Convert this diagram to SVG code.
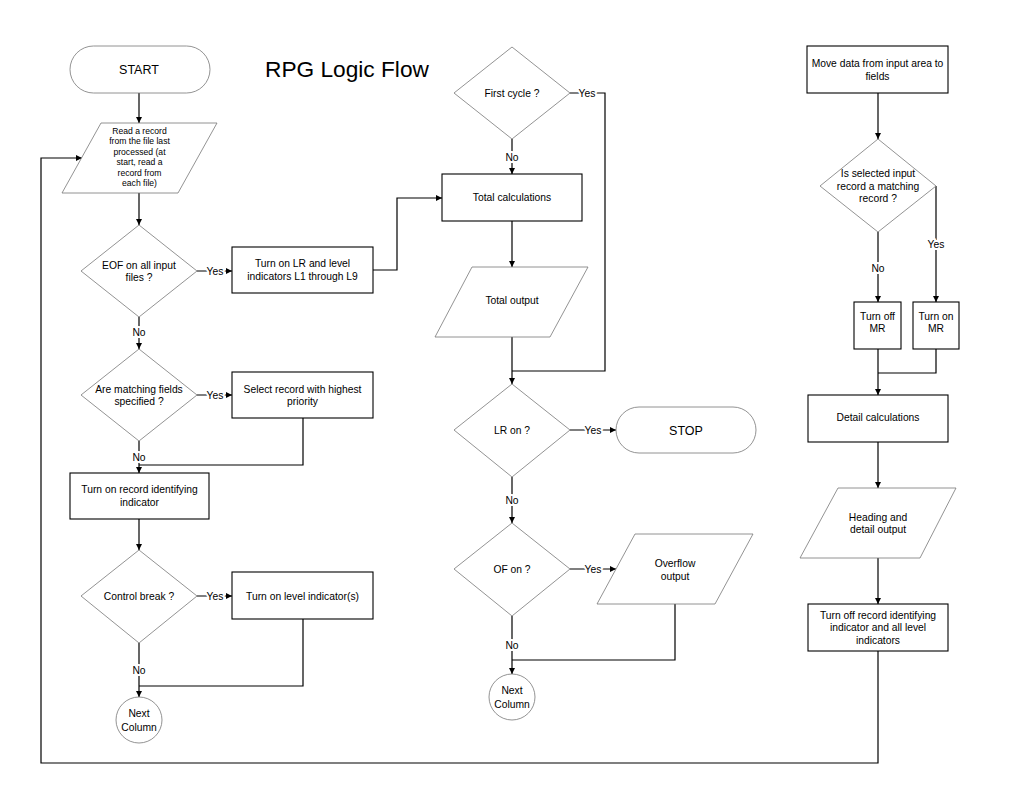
<svg xmlns="http://www.w3.org/2000/svg" width="1023" height="791" viewBox="0 0 1023 791">
<defs>
<marker id="arr" viewBox="0 0 8 8" refX="8" refY="4" markerWidth="6" markerHeight="6" markerUnits="userSpaceOnUse" orient="auto">
<path d="M0,0 L8,4 L0,8 z" fill="#000"/>
</marker>
<style>
text{font-family:"Liberation Sans",Arial,sans-serif;font-size:10.3px;fill:#000;text-anchor:middle}
.t{font-size:12.5px}
.title{font-size:22.7px;text-anchor:start}
.sm{font-size:8.6px}
.box{fill:#fff;stroke:#000;stroke-width:1.1}
.soft{fill:#fff;stroke:#777;stroke-width:0.8}
.c{fill:none;stroke:#000;stroke-width:1.2}
.a{marker-end:url(#arr)}
.lbl{stroke:#fff;stroke-width:4;paint-order:stroke;stroke-linejoin:round}
</style>
</defs>
<rect width="1023" height="791" fill="#fff"/>
<text class="title" x="265" y="77">RPG Logic Flow</text>

<g id="connectors">
<path class="c a" d="M139,93 V123"/>
<path class="c a" d="M139,193 V225"/>
<path class="c a" d="M197,271 H232"/>
<path class="c a" d="M139,317 V349"/>
<path class="c a" d="M373,270 H397 V198 H442"/>
<path class="c a" d="M197,395 H232"/>
<path class="c a" d="M139,441 V473"/>
<path class="c" d="M303,418 V465 H139"/>
<path class="c a" d="M139,519 V550"/>
<path class="c a" d="M197,596 H232"/>
<path class="c a" d="M139,643 V697"/>
<path class="c" d="M303,619 V686 H139"/>
<path class="c" d="M570,93 H605 V371 H512"/>
<path class="c a" d="M512,139 V174"/>
<path class="c a" d="M512,221 V267"/>
<path class="c a" d="M512,337 V384"/>
<path class="c a" d="M570,430 H616"/>
<path class="c a" d="M512,477 V523"/>
<path class="c a" d="M570,569 H616"/>
<path class="c a" d="M512,616 V674"/>
<path class="c" d="M675,604 V660 H512"/>
<path class="c a" d="M878,93 V139"/>
<path class="c a" d="M878,232 V302"/>
<path class="c a" d="M936,186 V302"/>
<path class="c" d="M878,349 V373"/>
<path class="c" d="M936,349 V373 H878"/>
<path class="c a" d="M878,373 V395"/>
<path class="c a" d="M878,442 V488"/>
<path class="c a" d="M878,558 V604"/>
<path class="c a" d="M878,651 V763 H41 V158 H82"/>
<text class="lbl" x="215" y="274.5">Yes</text>
<text class="lbl" x="139" y="336">No</text>
<text class="lbl" x="215" y="398.5">Yes</text>
<text class="lbl" x="139" y="460.5">No</text>
<text class="lbl" x="215" y="599.5">Yes</text>
<text class="lbl" x="139" y="673.5">No</text>
<text class="lbl" x="587" y="96.5">Yes</text>
<text class="lbl" x="512" y="160.5">No</text>
<text class="lbl" x="593" y="433.5">Yes</text>
<text class="lbl" x="512" y="503.5">No</text>
<text class="lbl" x="593" y="572.5">Yes</text>
<text class="lbl" x="512" y="648.5">No</text>
<text class="lbl" x="878" y="271.5">No</text>
<text class="lbl" x="936" y="247.5">Yes</text>
</g>

<g id="start">
<rect class="soft" x="70" y="46" width="140" height="47" rx="23.5"/>
<text class="t" x="139" y="74">START</text>
</g>
<g id="read">
<polygon class="soft" points="101,123 217,123 178,193 62,193"/>
<text class="sm" x="139.5" y="133.8">Read a record</text>
<text class="sm" x="139.5" y="144.2">from  the file last</text>
<text class="sm" x="139.5" y="154.6">processed (at</text>
<text class="sm" x="139.5" y="165">start, read a</text>
<text class="sm" x="139.5" y="175.6">record from</text>
<text class="sm" x="139.5" y="186">each file)</text>
</g>
<g id="eof">
<polygon class="soft" points="139,225 197,271 139,317 81,271"/>
<text x="139" y="268.5">EOF on all input</text>
<text x="139" y="281">files ?</text>
</g>
<g id="lr-ind">
<rect class="box" x="232" y="247" width="141" height="46"/>
<text x="302.5" y="266.5">Turn on LR and level</text>
<text x="302.5" y="279.5">indicators L1 through L9</text>
</g>
<g id="match">
<polygon class="soft" points="139,349 197,395 139,441 81,395"/>
<text x="139" y="392.5">Are matching fields</text>
<text x="139" y="405">specified ?</text>
</g>
<g id="select">
<rect class="box" x="232" y="372" width="141" height="46"/>
<text x="302.5" y="392.5">Select record with highest</text>
<text x="302.5" y="405">priority</text>
</g>
<g id="rid">
<rect class="box" x="70" y="473" width="139" height="46"/>
<text x="139.5" y="492.5">Turn on record identifying</text>
<text x="139.5" y="505.5">indicator</text>
</g>
<g id="control">
<polygon class="soft" points="139,550 197,596 139,643 81,596"/>
<text x="139" y="599.5">Control break ?</text>
</g>
<g id="level">
<rect class="box" x="232" y="572" width="141" height="47"/>
<text x="302.5" y="599.5">Turn on level indicator(s)</text>
</g>
<g id="next1">
<circle class="soft" cx="139" cy="720" r="23"/>
<text x="139" y="716.5">Next</text>
<text x="139" y="730.5">Column</text>
</g>

<g id="first">
<polygon class="soft" points="512,47 570,93 512,139 454,93"/>
<text x="512" y="96.5">First cycle ?</text>
</g>
<g id="totalcalc">
<rect class="box" x="442" y="174" width="140" height="47"/>
<text x="512" y="200.5">Total calculations</text>
</g>
<g id="totalout">
<polygon class="soft" points="472,267 588,267 550,337 435,337"/>
<text x="512" y="303.5">Total output</text>
</g>
<g id="lron">
<polygon class="soft" points="512,384 570,430 512,477 454,430"/>
<text x="512" y="433.5">LR on ?</text>
</g>
<g id="stop">
<rect class="soft" x="616" y="407" width="140" height="46" rx="23"/>
<text class="t" x="686" y="434.5">STOP</text>
</g>
<g id="ofon">
<polygon class="soft" points="512,523 570,569 512,616 454,569"/>
<text x="512" y="572.5">OF on ?</text>
</g>
<g id="overflow">
<polygon class="soft" points="635,534 753,534 715,604 597,604"/>
<text x="675" y="566.5">Overflow</text>
<text x="675" y="579.5">output</text>
</g>
<g id="next2">
<circle class="soft" cx="512" cy="697" r="23"/>
<text x="512" y="693.5">Next</text>
<text x="512" y="707.5">Column</text>
</g>

<g id="move">
<rect class="box" x="807" y="46" width="141" height="47"/>
<text x="877.5" y="66.5">Move data from input area to</text>
<text x="877.5" y="79.5">fields</text>
</g>
<g id="ismatch">
<polygon class="soft" points="878,139 936,186 878,232 820,186"/>
<text x="878" y="176.5">Is selected input</text>
<text x="878" y="189.5">record a matching</text>
<text x="878" y="202">record ?</text>
</g>
<g id="mroff">
<rect class="box" x="854" y="302" width="47" height="47"/>
<text x="877.5" y="319.5">Turn off</text>
<text x="877.5" y="332">MR</text>
</g>
<g id="mron">
<rect class="box" x="913" y="302" width="46" height="47"/>
<text x="936" y="319.5">Turn on</text>
<text x="936" y="332">MR</text>
</g>
<g id="detail">
<rect class="box" x="808" y="395" width="140" height="47"/>
<text x="878" y="421">Detail calculations</text>
</g>
<g id="heading">
<polygon class="soft" points="838,488 956,488 920,558 800,558"/>
<text x="878" y="520.5">Heading and</text>
<text x="878" y="532.5">detail output</text>
</g>
<g id="turnoff">
<rect class="box" x="808" y="604" width="140" height="47"/>
<text x="878" y="618.5">Turn off record identifying</text>
<text x="878" y="631">indicator and all level</text>
<text x="878" y="643.5">indicators</text>
</g>
</svg>
